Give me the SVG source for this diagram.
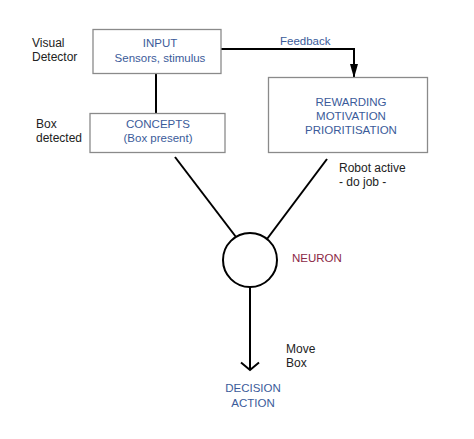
<svg xmlns="http://www.w3.org/2000/svg" width="474" height="439" viewBox="0 0 474 439">
<style>
.box{fill:#fff;stroke:#8a8a8a;stroke-width:1.3}
.ln{stroke:#000;stroke-width:2;fill:none}
.bt{font-family:"Liberation Sans",Arial,sans-serif;font-size:11.5px;fill:#3b5b9a;text-anchor:middle}
.lb{font-family:"Liberation Sans",Arial,sans-serif;font-size:12px;fill:#222}
.nr{font-family:"Liberation Sans",Arial,sans-serif;font-size:11.5px;fill:#8b2846}
</style>
<defs>
<marker id="ah" viewBox="0 0 14 8" refX="13" refY="4" markerWidth="7" markerHeight="4" orient="auto" markerUnits="strokeWidth">
<path d="M0,0 L14,4 L0,8 z" fill="#000"/>
</marker>
</defs>
<rect width="474" height="439" fill="#fff"/>
<g id="connectors">
<line class="ln" x1="156" y1="73" x2="156" y2="113"/>
<path class="ln" d="M221,49 H354 V77" marker-end="url(#ah)"/>
<line class="ln" x1="175" y1="157" x2="236" y2="237"/>
<line class="ln" x1="327" y1="159" x2="267" y2="239"/>
<line class="ln" x1="250" y1="287" x2="250" y2="370"/>
<path class="ln" d="M241,362.5 L250,370 L259,362.5" stroke-width="1.5"/>
<text x="280" y="45" class="bt" style="text-anchor:start">Feedback</text>
<text x="286" y="353" class="lb">Move</text>
<text x="286" y="367" class="lb">Box</text>
</g>
<g id="input">
<rect class="box" x="93" y="29.5" width="128" height="44"/>
<text x="160" y="47" class="bt">INPUT</text>
<text x="160" y="62" class="bt">Sensors, stimulus</text>
<text x="32" y="47" class="lb">Visual</text>
<text x="32" y="61" class="lb">Detector</text>
</g>
<g id="concepts">
<rect class="box" x="90" y="113.5" width="135" height="39"/>
<text x="158" y="128" class="bt">CONCEPTS</text>
<text x="158" y="142" class="bt">(Box present)</text>
<text x="36" y="128" class="lb">Box</text>
<text x="36" y="142" class="lb">detected</text>
</g>
<g id="rewarding">
<rect class="box" x="268.5" y="77.5" width="159" height="75"/>
<text x="351" y="106" class="bt">REWARDING</text>
<text x="351" y="120" class="bt">MOTIVATION</text>
<text x="351" y="134" class="bt">PRIORITISATION</text>
<text x="339" y="172" class="lb">Robot active</text>
<text x="339" y="186" class="lb">- do job -</text>
</g>
<g id="neuron">
<circle cx="250" cy="260" r="27" fill="#fff" stroke="#000" stroke-width="2"/>
<text x="292" y="262" class="nr">NEURON</text>
</g>
<g id="decision">
<text x="253" y="392" class="bt">DECISION</text>
<text x="253" y="407" class="bt">ACTION</text>
</g>
</svg>
